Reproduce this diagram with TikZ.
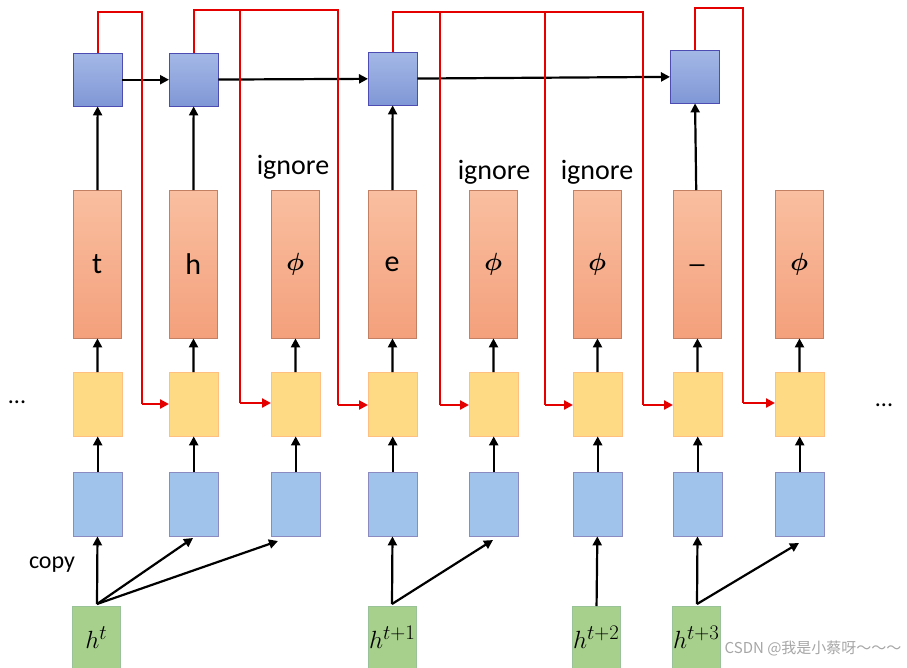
\documentclass[tikz,border=0pt]{standalone}
\usepackage{amsmath,amssymb,bm}
\usepackage{fontspec}
\setmainfont{Carlito}
\newfontfamily\cjk{Noto Sans CJK SC}
\usetikzlibrary{arrows.meta}
\definecolor{tb1}{HTML}{A4B8E6}\definecolor{tb2}{HTML}{7F97D6}
\definecolor{or1}{HTML}{F9BFA0}\definecolor{or2}{HTML}{F4A07C}
\definecolor{ye}{HTML}{FFDA85}\definecolor{bl}{HTML}{9FC3EA}\definecolor{gr}{HTML}{A8D08D}
\begin{document}
\begin{tikzpicture}[x=1pt,y=-1pt,
 top/.style={draw=blue!40!gray,top color=tb1,bottom color=tb2,inner sep=0pt,anchor=north west,minimum width=49pt,minimum height=53pt},
 org/.style={draw=or2!80!black,top color=or1,bottom color=or2,inner sep=0pt,anchor=north west,minimum width=48pt,minimum height=148pt,font=\fontsize{30}{30}\selectfont},
 yel/.style={draw=orange!50,fill=ye,inner sep=0pt,anchor=north west,minimum width=49pt,minimum height=64pt},
 blu/.style={draw=blue!30!gray!70,fill=bl,inner sep=0pt,anchor=north west,minimum width=49pt,minimum height=64pt},
 grn/.style={draw=green!40!black!40,fill=gr,inner sep=0pt,anchor=north west,minimum width=48pt,minimum height=62pt,font=\fontsize{28}{28}\selectfont},
 ar/.style={-{Triangle[length=9pt,width=9pt]},line width=2.2pt,black},
 rr/.style={-{Triangle[length=9pt,width=9pt]},line width=2.2pt,red!90!black},
 rl/.style={line width=2.2pt,red!90!black}]
\useasboundingbox (0,0) rectangle (907,667);
\foreach \i/\x/\t in {1/73/t,2/169/h,3/271/$\bm\phi$,4/368/e,5/469/$\bm\phi$,6/573/$\bm\phi$,7/673/\_,8/775/$\bm\phi$}{
 \node[org] (o\i) at (\x,190) {\t};
 \node[yel] (y\i) at (\x,372) {};
 \node[blu] (b\i) at (\x,472) {};
 \draw[ar] (b\i) -- (y\i);
 \draw[ar] (y\i) -- (o\i);
}
\node[top] (t1) at (73,53) {};
\node[top] (t2) at (169,53) {};
\node[top] (t4) at (368,52) {};
\node[top] (t7) at (670,50) {};
\foreach \i in {1,2,4,7}{\draw[ar] (o\i) -- (t\i);}
\draw[ar] (t1) -- (t2); \draw[ar] (t2) -- (t4); \draw[ar] (t4) -- (t7);
\node[grn] (g1) at (72,606) {$h^t$};
\node[grn] (g4) at (368,606) {$h^{t+1}$};
\node[grn] (g6) at (572,606) {$h^{t+2}$};
\node[grn] (g7) at (672,606) {$h^{t+3}$};
\coordinate (c1) at (97,604);
\draw[ar] (c1) -- (b1);
\draw[ar] (c1) -- (193,538);
\draw[ar] (c1) -- (278,541);
\coordinate (c4) at (392,604);
\draw[ar] (c4) -- (b4); \draw[ar] (c4) -- (493,540);
\draw[ar] (g6) -- (b6);
\coordinate (c7) at (697,604);
\draw[ar] (c7) -- (b7); \draw[ar] (c7) -- (799,543);
\coordinate (r1) at (142,404); \coordinate (r2) at (240,403); \coordinate (r3) at (338,405);
\coordinate (r4) at (440,405); \coordinate (r5) at (545,405); \coordinate (r6) at (643,405); \coordinate (r7) at (743,403);
\draw[rl] (t1.north) |- (142,12) -- (r1); \draw[rr] (r1) -- (y2.west|-r1);
\draw[rl] (t2.north) |- (338,10) -- (r3); \draw[rl] (240,10) -- (r2);
\draw[rr] (r2) -- (y3.west|-r2); \draw[rr] (r3) -- (y4.west|-r3);
\draw[rl] (t4.north) |- (643,12) -- (r6); \draw[rl] (440,12) -- (r4); \draw[rl] (545,12) -- (r5);
\draw[rr] (r4) -- (y5.west|-r4); \draw[rr] (r5) -- (y6.west|-r5); \draw[rr] (r6) -- (y7.west|-r6);
\draw[rl] (t7.north) |- (743,8) -- (r7); \draw[rr] (r7) -- (y8.west|-r7);
\node[font=\fontsize{28}{28}\selectfont] (i3) at (293,167) {ignore};
\node[font=\fontsize{28}{28}\selectfont] (i5) at (494,172) {ignore};
\node[font=\fontsize{28}{28}\selectfont] (i6) at (597,172) {ignore};
\node[font=\fontsize{24}{24}\selectfont] (cp) at (52,565) {copy};
\node[font=\fontsize{24}{24}\selectfont] (d1) at (17,402) {...};
\node[font=\fontsize{24}{24}\selectfont] (d2) at (884,405) {...};
\node[font=\fontsize{15}{15}\selectfont\cjk,text=gray!70,anchor=east] (wm) at (905,648) {CSDN @我是小蔡呀～～～};
\end{tikzpicture}
\end{document}
